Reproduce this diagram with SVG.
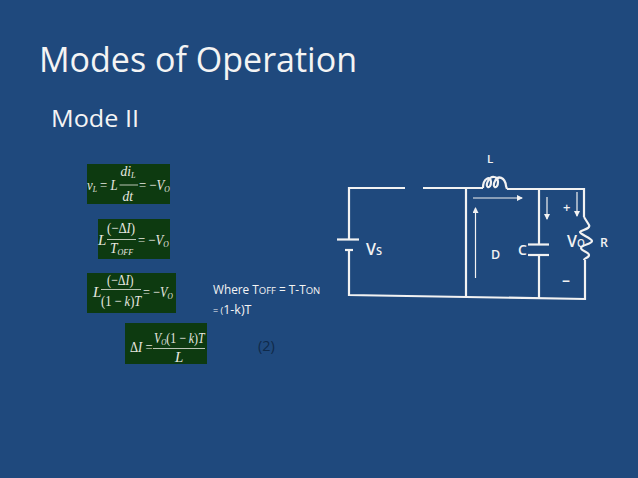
<svg xmlns="http://www.w3.org/2000/svg" width="638" height="478" viewBox="0 0 638 478">
<defs>
<marker id="ah" markerWidth="6" markerHeight="6" refX="5" refY="3" orient="auto" markerUnits="userSpaceOnUse"><path d="M0,0 L6,3 L0,6 Z" fill="#f2f2f2"/></marker>
</defs>
<style>
.t{font-family:"Open Sans","Liberation Sans",sans-serif;fill:#f4f4f4}
.b{font-family:"Open Sans","Liberation Sans",sans-serif;fill:#f2f2f2;font-weight:600}
.box{fill:#0d3a10}
.m{font-family:"Liberation Serif","DejaVu Serif",serif;font-style:italic;fill:#e8e8e0;font-size:15px}
.u{font-family:"Liberation Serif","DejaVu Serif",serif;fill:#e8e8e0;font-size:15px}
.fr{stroke:#e8e8e0;stroke-width:.8;fill:none}
.w{stroke:#f2f2f2;stroke-width:2.200;fill:none}
.a{stroke:#f2f2f2;stroke-width:1.200;fill:none;marker-end:url(#ah)}
</style>
<rect width="638" height="478" fill="#1f497d"/>
<text class="t" x="39" y="72" font-size="34" textLength="318" lengthAdjust="spacingAndGlyphs">Modes of Operation</text>
<text class="t" x="51" y="127" font-size="24" textLength="88" lengthAdjust="spacingAndGlyphs">Mode II</text>

<g id="eq1">
<rect class="box" x="87" y="164" width="83" height="40"/>
<text class="m" transform="translate(87 190) scale(.85 1)">v<tspan font-size="9" dy="2">L</tspan><tspan dy="-2" font-style="normal"> = </tspan>L</text>
<text class="m" transform="translate(120.500 176) scale(.9 1)">di<tspan font-size="9" dy="2">L</tspan></text>
<path class="fr" d="M119.500 185H138"/>
<text class="m" transform="translate(122.500 201) scale(.9 1)">dt</text>
<text class="u" transform="translate(139 190) scale(.85 1)">= −<tspan font-style="italic">V</tspan><tspan font-size="9" font-style="italic" dy="2">O</tspan></text>
</g>
<g id="eq2">
<rect class="box" x="98" y="219" width="72" height="40"/>
<text class="m" x="98" y="245">L</text>
<text class="u" transform="translate(107 233) scale(.85 1)">(−Δ<tspan font-style="italic">I</tspan>)</text>
<path class="fr" d="M107 239.500H136"/>
<text class="m" transform="translate(110 253) scale(.9 1)">T<tspan font-size="9" dy="2">OFF</tspan></text>
<text class="u" transform="translate(138 245) scale(.85 1)">= −<tspan font-style="italic">V</tspan><tspan font-size="9" font-style="italic" dy="2">O</tspan></text>
</g>
<g id="eq3">
<rect class="box" x="87" y="273" width="89" height="40"/>
<text class="m" x="93" y="297">L</text>
<text class="u" transform="translate(107 285) scale(.8 1)">(−Δ<tspan font-style="italic">I</tspan>)</text>
<path class="fr" d="M101 289.500H141"/>
<text class="u" transform="translate(101 306) scale(.83 1)">(1 − <tspan font-style="italic">k</tspan>)<tspan font-style="italic">T</tspan></text>
<text class="u" transform="translate(143 297) scale(.82 1)">= −<tspan font-style="italic">V</tspan><tspan font-size="9" font-style="italic" dy="2">O</tspan></text>
</g>
<g id="eq4">
<rect class="box" x="125" y="323" width="82" height="41"/>
<text class="u" transform="translate(130 352) scale(.84 1)">Δ<tspan font-style="italic">I</tspan> =</text>
<text class="u" transform="translate(154 343) scale(.79 1)"><tspan font-style="italic">V</tspan><tspan font-size="9" font-style="italic" dy="2">O</tspan><tspan dy="-2">(1 − </tspan><tspan font-style="italic">k</tspan>)<tspan font-style="italic">T</tspan></text>
<path class="fr" d="M153 348.500H205"/>
<text class="m" x="175" y="362">L</text>
</g>

<text class="t" x="213" y="294" font-size="11.800">Where T<tspan font-size="9.500">OFF</tspan> = T-T<tspan font-size="9.500">ON</tspan></text>
<text class="t" x="213" y="314" font-size="12.500"><tspan font-size="9">= (</tspan>1-k)T</text>
<text x="258" y="351" font-size="14.500" font-family="Open Sans, Liberation Sans, sans-serif" fill="#0f2a4a">(2)</text>

<g id="connectors">
<path class="w" d="M405 188H349V239"/>
<path class="w" d="M349 250V295L466 297L585 299V260"/>
<path class="w" d="M423 188H483"/>
<path class="w" d="M507 189H584V217"/>
<path class="w" d="M466 187V297"/>
<path class="w" d="M539 189V244"/>
<path class="w" d="M539 255V298"/>
<path class="a" d="M473 198H522"/>
<path class="a" d="M475.500 278V208"/>
<path class="a" d="M547 197V219"/>
<path class="a" d="M577 192V216"/>
</g>
<g id="source">
<path class="w" d="M337 239.500H359"/>
<path class="w" d="M345 250H353"/>
<text class="b" x="366" y="255" font-size="16">V<tspan font-size="11">S</tspan></text>
</g>
<g id="inductor">
<path class="w" d="M483 188C483 178 491 175 491 182C491 190 484 188 488 181C491 175 498 176 498 182C498 190 491 188 495 181C498 175 505 177 506 186L507 189"/>
<text class="b" x="487" y="163" font-size="11.500">L</text>
</g>
<g id="diode">
<text class="b" x="491" y="259" font-size="12.500">D</text>
</g>
<g id="capacitor">
<path class="w" d="M528 244.500H549"/>
<path class="w" d="M528 255H549"/>
<text class="b" x="518" y="255" font-size="14">C</text>
</g>
<g id="resistor">
<path class="w" d="M584 217L589 225C591 229 581 230 580 232C579 234 592 238 592 241C592 244 581 245 581 248C581 251 589 252 589 255C589 258 584 258 584 260"/>
<text class="b" x="600" y="247" font-size="12.500">R</text>
</g>
<g id="labels">
<text class="b" x="567" y="247" font-size="16">V<tspan font-size="10">O</tspan></text>
<text class="b" x="563" y="212" font-size="13">+</text>
<text class="b" x="562" y="286" font-size="16">–</text>
</g>
</svg>
